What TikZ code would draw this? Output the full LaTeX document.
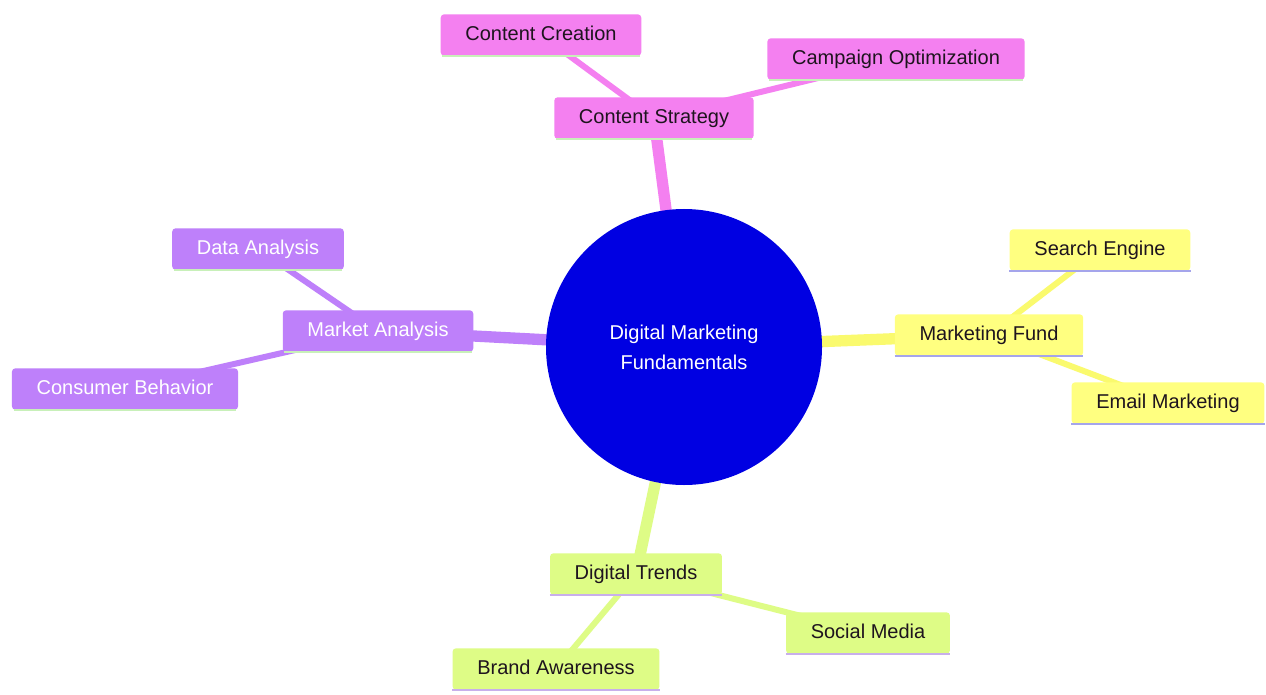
\documentclass[tikz,border=0pt]{standalone}
\usepackage{fontspec}
\setmainfont{Liberation Sans}
\usetikzlibrary{backgrounds}
\definecolor{rootblue}{RGB}{0,0,226}
\definecolor{cpink}{RGB}{244,128,240}
\definecolor{cpurple}{RGB}{190,128,250}
\definecolor{cyellow}{RGB}{255,255,128}
\definecolor{cyedge}{RGB}{250,250,110}
\definecolor{clime}{RGB}{222,252,134}
\definecolor{lgreen}{RGB}{200,240,185}
\definecolor{lblue}{RGB}{165,165,235}
\definecolor{llav}{RGB}{200,175,235}
\definecolor{txt}{RGB}{30,20,30}
\tikzset{
  x=0.75pt, y=-0.75pt,
  box/.style={rectangle, rounded corners=2.5pt, inner xsep=18.5pt, inner ysep=0pt,
    minimum height=31pt, text height=10.5pt, text depth=2pt,
    font=\fontsize{15}{18}\selectfont, text=txt},
  pinkbox/.style={box, fill=cpink},
  purplebox/.style={box, fill=cpurple, text=white},
  yellowbox/.style={box, fill=cyellow},
  limebox/.style={box, fill=clime},
  mainedge/.style={line width=8.5pt},
  leafedge/.style={line width=4.5pt},
  underline/.style={line width=1.5pt}
}
\begin{document}
\begin{tikzpicture}
\useasboundingbox (0,0) rectangle (1266,695);
% root
\node[circle, fill=rootblue, minimum size=207pt, inner sep=0pt, align=center,
  text=white, font=\fontsize{15}{22.5}\selectfont] (root) at (684,347)
  {Digital Marketing\\Fundamentals};
% pink branch
\node[pinkbox] (cs) at (654,118) {Content Strategy};
\node[pinkbox] (cc) at (541,35) {Content Creation};
\node[pinkbox] (co) at (896,59) {Campaign Optimization};
% purple branch
\node[purplebox] (ma) at (378,331) {Market Analysis};
\node[purplebox] (da) at (258,249) {Data Analysis};
\node[purplebox] (cb) at (125,389) {Consumer Behavior};
% yellow branch
\node[yellowbox] (mf) at (989,335) {Marketing Fund};
\node[yellowbox] (se) at (1100,250) {Search Engine};
\node[yellowbox] (em) at (1168,403) {Email Marketing};
% lime branch
\node[limebox] (dt) at (636,574) {Digital Trends};
\node[limebox] (sm) at (868,633) {Social Media};
\node[limebox] (ba) at (556,669) {Brand Awareness};
% underlines
\foreach \n in {cs,cc,co,ma,da,cb}
  \draw[underline, lgreen] ([xshift=1.5pt]\n.south west) -- ([xshift=-1.5pt]\n.south east);
\foreach \n in {mf,se,em}
  \draw[underline, lblue] (\n.south west) -- (\n.south east);
\foreach \n in {dt,sm,ba}
  \draw[underline, llav] (\n.south west) -- (\n.south east);
\begin{scope}[on background layer]
  \fill[white] (0,0) rectangle (1266,695);
  \draw[mainedge, cpink] (root.center) -- (cs.center);
  \draw[leafedge, cpink] (cs.center) -- (cc.center);
  \draw[leafedge, cpink] (cs.center) -- (co.center);
  \draw[mainedge, cpurple] (root.center) -- (ma.center);
  \draw[leafedge, cpurple] (ma.center) -- (da.center);
  \draw[leafedge, cpurple] (ma.center) -- (cb.center);
  \draw[mainedge, cyedge] (root.center) -- (mf.center);
  \draw[leafedge, cyedge] (mf.center) -- (se.center);
  \draw[leafedge, cyedge] (mf.center) -- (em.center);
  \draw[mainedge, clime] (root.center) -- (dt.center);
  \draw[leafedge, clime] (dt.center) -- (sm.center);
  \draw[leafedge, clime] (dt.center) -- (ba.center);
\end{scope}
\end{tikzpicture}
\end{document}
